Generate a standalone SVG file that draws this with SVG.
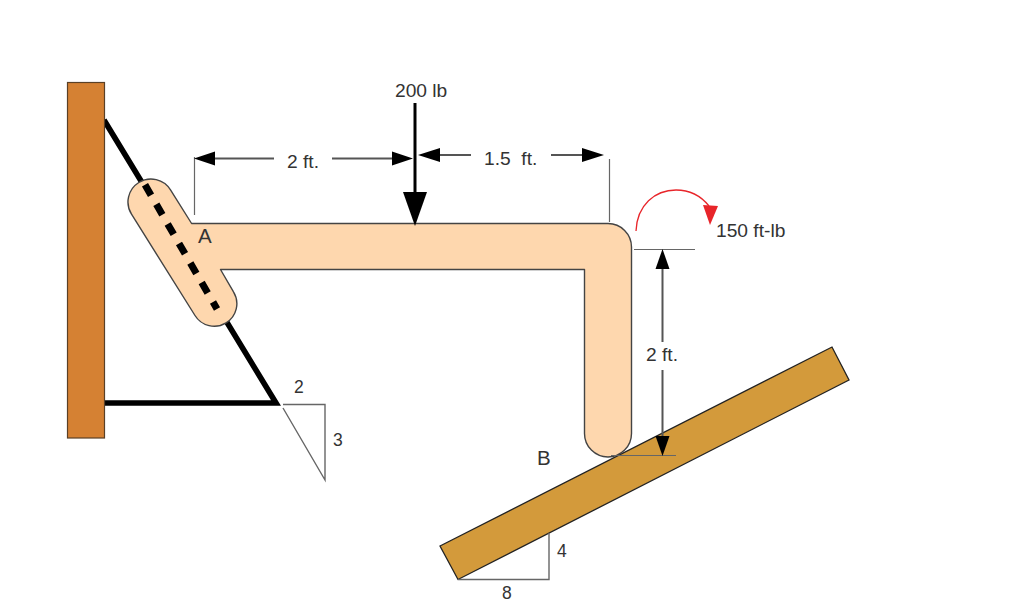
<svg xmlns="http://www.w3.org/2000/svg" width="1024" height="608" viewBox="0 0 1024 608">
<style>
text{font-family:"Liberation Sans",Arial,sans-serif;font-size:19.200px;fill:#333;white-space:pre}
.big{font-size:20.500px}
.num{font-size:17.500px}
.dim{stroke:#666;stroke-width:1.200;fill:none}
.dimb{stroke:#555;stroke-width:2;fill:none}
.tri{stroke:#666;stroke-width:1.400;fill:none}
.ah{fill:#000;stroke:none}
</style>
<rect width="1024" height="608" fill="#fff"/>
<g id="connectors">
<path d="M104 120L276 403H104" fill="none" stroke="#000" stroke-width="5.600"/>
</g>
<g id="wall"><rect x="67.500" y="82.500" width="37" height="355.500" fill="#d58133" stroke="#5a4026" stroke-width="1.200"/></g>
<g id="incline"><polygon points="440,546 832,347 849,380 458,579.500" fill="#d39a3b" stroke="#222" stroke-width="1.300"/></g>
<g id="member">
<path d="M191.600 223.500H608A23.500 23.500 0 0 1 631.500 247V433.500A23.500 23.500 0 0 1 584.500 433.500V269.500H220.500L233.500 291.800A22.500 22.500 0 0 1 195 315.500L131.500 214.200A23 23 0 0 1 170.500 189.800Z" fill="#fed7ae" stroke="#444" stroke-width="1.400" stroke-linejoin="round"/>
<path d="M145 184.800L217 309" fill="none" stroke="#000" stroke-width="7" stroke-dasharray="12 10.600"/>
</g>
<g id="dimensions">
<path class="dim" d="M194.500 157V215M609.500 159V222M634 249.500H695M611 455.500H676"/>
<path class="dimb" d="M214 158.500H274M332 158.500H394M438 155H471M551 155H584M662.500 268V342M662.500 370V436"/>
<polygon class="ah" points="194,158.500 215,151.500 215,165.500"/>
<polygon class="ah" points="413,158.500 392,151.500 392,165.500"/>
<polygon class="ah" points="418,155 440,148 440,162"/>
<polygon class="ah" points="604,155 582,148 582,162"/>
<polygon class="ah" points="662.500,249 655.500,269 669.500,269"/>
<polygon class="ah" points="662.500,456 655.500,436 669.500,436"/>
</g>
<g id="load-200">
<path d="M415 103V196" fill="none" stroke="#000" stroke-width="3"/>
<polygon class="ah" points="415,226 403,192 427,192"/>
</g>
<g id="moment">
<path d="M636 231C637 205 655 190 676 190C690 190 701 196 709 206" fill="none" stroke="#e8252a" stroke-width="1.300"/>
<polygon points="703,205 718,206 710,225" fill="#e8252a"/>
</g>
<g id="slopes">
<path class="tri" d="M283 404.500H325V480L283 408"/>
<path class="tri" d="M549 533V579.500H458"/>
</g>
<g id="labels">
<text x="395" y="97">200 lb</text>
<text x="287" y="168">2 ft.</text>
<text x="484" y="165">1.5  ft.</text>
<text x="716" y="237">150 ft-lb</text>
<text x="646" y="361">2 ft.</text>
<text x="198" y="243" class="big">A</text>
<text x="537" y="465" class="big">B</text>
<text x="294" y="393" class="num">2</text>
<text x="333" y="446" class="num">3</text>
<text x="557" y="557" class="num">4</text>
<text x="502" y="599" class="num">8</text>
</g>
</svg>
